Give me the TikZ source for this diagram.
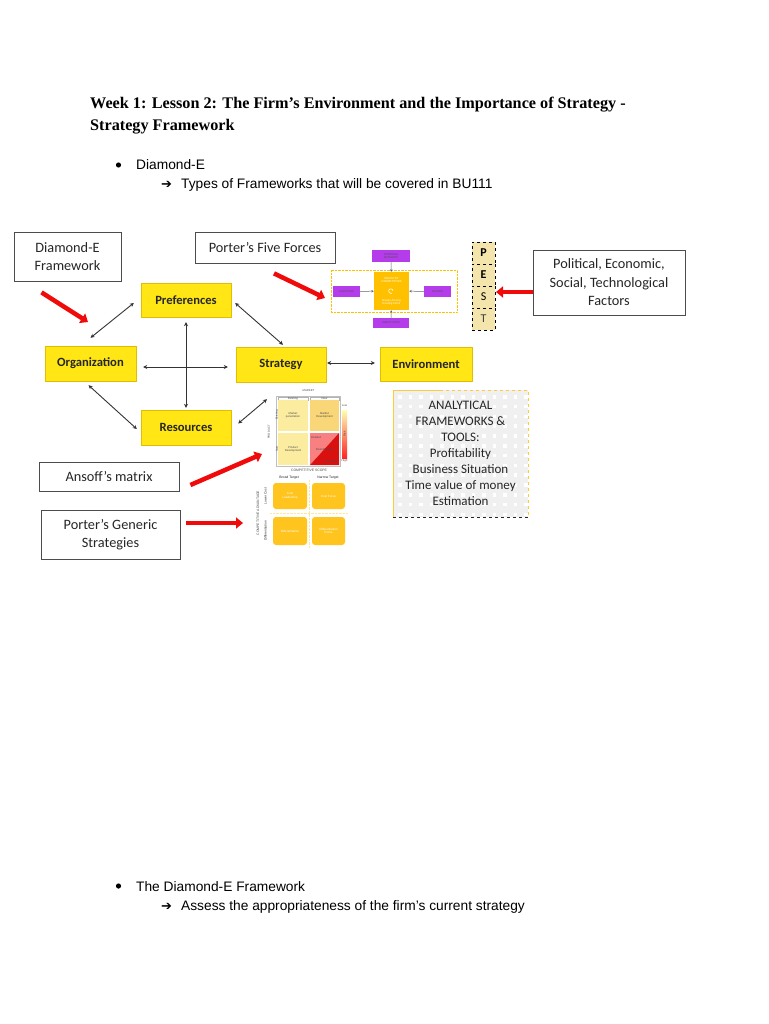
\documentclass[tikz,border=0pt]{standalone}
\usepackage{fontspec}
\setmainfont{Liberation Serif}
\newfontfamily\arialf{Liberation Sans}
\newfontfamily\calf{Carlito}
\newfontfamily\dvf{DejaVu Sans}
\usetikzlibrary{arrows.meta,shadows}
\definecolor{ybox}{RGB}{255,230,20}
\definecolor{yedge}{RGB}{225,190,0}
\definecolor{redarr}{RGB}{240,10,10}
\definecolor{purp}{RGB}{180,60,235}
\definecolor{orng}{RGB}{255,192,0}
\definecolor{pestfill}{RGB}{243,229,171}
\definecolor{ansA}{RGB}{252,236,160}
\definecolor{ansB}{RGB}{249,214,120}
\definecolor{ansP}{RGB}{248,128,128}
\definecolor{ansR}{RGB}{216,16,16}
\definecolor{gsfill}{RGB}{255,196,30}
\tikzset{
  lbl/.style={draw=black!70, line width=0.8pt, fill=white, inner sep=0pt, align=center, font=\calf\fontsize{14.3}{18.5}\selectfont, text=black!85},
  ybx/.style={draw=yedge, line width=0.4pt, fill=ybox, inner sep=0pt, font=\calf\bfseries\fontsize{12.6}{14}\selectfont, text=black!85, drop shadow={opacity=0.25, shadow xshift=1.2pt, shadow yshift=-1.2pt}},
  dlink/.style={black!80, line width=0.9pt, {Stealth[length=4pt,width=4pt]}-{Stealth[length=4pt,width=4pt]}},
  redarrow/.style={redarr, line width=4.5pt, -{Triangle[length=7pt,width=11pt]}},
  ff/.style={fill=purp, inner sep=0pt, align=center, font=\arialf\fontsize{2.6}{3}\selectfont, text=black!70},
  ffarrow/.style={black!60, line width=0.5pt, -{Stealth[length=2.5pt,width=2.5pt]}},
  pest/.style={draw=black, dashed, line width=0.5pt, fill=pestfill, minimum width=23pt, minimum height=22pt, inner sep=0pt, font=\calf\fontsize{12}{14}\selectfont},
  tiny/.style={font=\arialf\fontsize{2.8}{3.2}\selectfont, text=black!70, inner sep=0pt, align=center},
  gs/.style={fill=gsfill, rounded corners=3pt, inner sep=0pt, align=center, font=\arialf\fontsize{3}{3.6}\selectfont, text=white},
  bodytext/.style={font=\arialf\fontsize{13.75}{16}\selectfont, anchor=base west, inner sep=0pt},
  arrowglyph/.style={font=\dvf\fontsize{13}{15}\selectfont, anchor=base west, inner sep=0pt},
  titletext/.style={font=\bfseries\fontsize{16.2}{19}\selectfont, anchor=base west, inner sep=0pt}
}
\begin{document}
\begin{tikzpicture}[x=1pt,y=-1pt]
\useasboundingbox (0,0) rectangle (768,1024);
\fill[white] (0,0) rectangle (768,1024);

% ---------- text ----------
\node[titletext] (t1) at (90,109) {Week 1: Lesson 2: The Firm’s Environment and the Importance of Strategy -};
\node[titletext] (t2) at (90,131) {Strategy Framework};
\fill (118.5,165) circle (2.6pt);
\node[bodytext] (b1) at (136,170) {Diamond-E};
\node[arrowglyph] (a1) at (161,189) {➔};
\node[bodytext] (b1a) at (181,189) {Types of Frameworks that will be covered in BU111};
\fill (118.5,886) circle (2.6pt);
\node[bodytext] (b2) at (136,891) {The Diamond-E Framework};
\node[arrowglyph] (a2) at (161,910) {➔};
\node[bodytext] (b2a) at (181,910) {Assess the appropriateness of the firm’s current strategy};

% ---------- Diamond-E ----------
\node[lbl, minimum width=107pt, minimum height=49pt] (diae) at (67.5,256.5) {Diamond-E\\Framework};
\node[lbl, minimum width=140pt, minimum height=31pt] (p5lbl) at (265,247.5) {Porter’s Five Forces};

\node[ybx, minimum width=90pt, minimum height=34pt] (pref) at (186,300) {Preferences};
\node[ybx, minimum width=91pt, minimum height=35pt] (org) at (90.5,363.5) {Organization};
\node[ybx, minimum width=90pt, minimum height=35pt] (strat) at (281,364.5) {Strategy};
\node[ybx, minimum width=92pt, minimum height=34pt] (env) at (426,364) {Environment};
\node[ybx, minimum width=90pt, minimum height=35pt] (res) at (186,427.5) {Resources};

\draw[dlink] ([yshift=8pt]org.north) -- ([xshift=-7pt,yshift=-3pt]pref.west);
\draw[dlink] ([xshift=4pt,yshift=-3pt]pref.east) -- ([xshift=2pt,yshift=2pt]strat.north);
\draw[dlink] ([xshift=7pt,yshift=-3.5pt]org.east) -- ([xshift=-8pt,yshift=-2.5pt]strat.west);
\draw[dlink] ([yshift=-5pt]pref.south) -- ([yshift=2pt]res.north);
\draw[dlink] ([xshift=1pt,yshift=1.5pt]strat.east) -- ([xshift=-5pt,yshift=1pt]env.west);
\draw[dlink] ([xshift=-2pt,yshift=-4pt]org.south) -- ([xshift=-4pt,yshift=-1.5pt]res.west);
\draw[dlink] ([xshift=-14pt,yshift=-17pt]strat.south) -- ([xshift=7pt,yshift=4pt]res.east);

% ---------- Porter's Five Forces ----------
\draw[orng, line width=0.4pt, densely dotted] (331,270) rectangle (457,312);
\node[ff, minimum width=38pt, minimum height=12pt] (pe) at (391,256) {POTENTIAL\\ENTRANTS};
\node[fill=orng, inner sep=0pt, minimum width=35pt, minimum height=38pt] (ic) at (391.5,291) {};
\node[tiny, text=white] (ict) at (391.5,280) {INDUSTRY\\COMPETITORS};
\draw[white, line width=0.5pt, -{Stealth[length=1.5pt]}] (393,291) arc (0:300:2.2pt);
\node[tiny, text=white] (icb) at (391.5,302) {Rivalry Among\\Existing Firms};
\node[ff, minimum width=27pt, minimum height=11pt] (sup) at (346.5,291.5) {SUPPLIERS};
\node[ff, minimum width=27pt, minimum height=11pt] (buy) at (437.5,291.5) {BUYERS};
\node[ff, minimum width=36pt, minimum height=10pt] (sub) at (391,323) {SUBSTITUTES};
\draw[ffarrow] (pe) -- (ic);
\draw[ffarrow] (sub) -- (ic);
\draw[ffarrow] (sup) -- (ic);
\draw[ffarrow] (buy) -- (ic);

% ---------- PEST ----------
\node[pest, font=\calf\bfseries\fontsize{12}{14}\selectfont] (pP) at (483.5,253) {P};
\node[pest, font=\calf\bfseries\fontsize{12}{14}\selectfont] (pE) at (483.5,275) {E};
\node[pest] (pS) at (483.5,297) {S};
\node[pest, text=black!75] (pT) at (483.5,319) {T};
\node[lbl, minimum width=152pt, minimum height=65pt] (pol) at (609,282.5) {Political, Economic,\\Social, Technological\\Factors};

% ---------- Ansoff matrix ----------
\node[tiny] (mk) at (308.5,391) {MARKET};
\draw[black!25, line width=0.3pt] (276,396) rectangle (340,466);
\node[tiny, draw=black!30, line width=0.2pt, minimum width=30pt, minimum height=3pt] (ch1) at (293,398.5) {Existing};
\node[tiny, draw=black!30, line width=0.2pt, minimum width=29pt, minimum height=3pt] (ch2) at (324.5,398.5) {New};
\node[tiny, rotate=90] (prd) at (269,432) {PRODUCT};
\node[tiny, rotate=90] (rh1) at (277,415) {Existing};
\node[tiny, rotate=90] (rh2) at (277,449) {New};
\node[fill=ansA, tiny, minimum width=30pt, minimum height=31pt] (mp) at (293,415.5) {Market\\penetration};
\node[fill=ansB, tiny, minimum width=29pt, minimum height=31pt] (md) at (324.5,415.5) {Market\\Development};
\node[fill=ansA, tiny, minimum width=30pt, minimum height=32pt] (pd) at (293,449) {Product\\Development};
\fill[ansP] (310,433) -- (339,433) -- (310,465) -- cycle;
\fill[ansR] (339,433) -- (339,465) -- (310,465) -- cycle;
\node[tiny] (dv1) at (316,437) {Related};
\node[tiny] (dv2) at (324.5,449) {Diversification};
\node[tiny] (dv3) at (331,461) {Unrelated};
\shade[top color=yellow!30, bottom color=red!85] (342,410) rectangle (347,458);
\node[tiny] (lo) at (344.5,406) {Low};
\node[tiny, rotate=90] (rk) at (344.5,434) {Risk};
\node[tiny] (hi) at (344.5,461) {High};

% ---------- Porter's generic strategies ----------
\node[tiny, font=\arialf\fontsize{3.4}{4}\selectfont] (cs) at (309,470) {COMPETITIVE SCOPE};
\node[tiny, font=\arialf\fontsize{3.4}{4}\selectfont, text=black!85] (bt) at (289,477.5) {Broad Target};
\node[tiny, font=\arialf\fontsize{3.4}{4}\selectfont, text=black!85] (nt) at (328,477.5) {Narrow Target};
\draw[orng!40, line width=0.4pt, densely dotted] (270,513) -- (348,513);
\draw[orng!40, line width=0.4pt, densely dotted] (309.5,480) -- (309.5,548);
\node[gs, minimum width=34pt, minimum height=26pt] (cl) at (290,496) {Cost\\Leadership};
\node[gs, minimum width=33pt, minimum height=26pt] (cf) at (328.5,496) {Cost Focus};
\node[gs, minimum width=34pt, minimum height=28pt] (df) at (290,531) {Differentiation};
\node[gs, minimum width=33pt, minimum height=28pt] (dff) at (328.5,531) {Differentiation\\Focus};
\node[tiny, rotate=90, font=\arialf\fontsize{3.4}{4}\selectfont] (ca) at (258,513) {COMPETITIVE ADVANTAGE};
\node[tiny, rotate=90, font=\arialf\fontsize{3.2}{4}\selectfont, text=black!85] (lc) at (265.5,496) {Lower Cost};
\node[tiny, rotate=90, font=\arialf\fontsize{3.2}{4}\selectfont, text=black!85] (dfl) at (265.5,531) {Differentiation};

\node[lbl, minimum width=140pt, minimum height=29pt] (ans) at (109,476.5) {Ansoff’s matrix};
\node[lbl, minimum width=139pt, minimum height=49pt] (pgs) at (110.5,534.5) {Porter’s Generic\\Strategies};

% ---------- Analytical frameworks box ----------
\fill[black!6] (393,390) rectangle (528,517);
\foreach \i in {0,...,12} {\foreach \j in {0,...,12} {\fill[white] (398+\i*10.5, 395+\j*9.8) rectangle ++(3.5,3.5);}}
\draw[orng!80, line width=0.8pt] (393,517) -- (393,390) -- (440,390);
\draw[orng!80, line width=0.8pt, dashed] (440,390) -- (528,390) -- (528,517);
\draw[black!85, line width=1pt, dashed] (393,517) -- (528,517);
\node[inner sep=0pt, align=center, font=\calf\fontsize{13}{16}\selectfont, text=black!85] (anl) at (460.5,453.5) {ANALYTICAL\\FRAMEWORKS \&\\TOOLS:\\Profitability\\Business Situation\\Time value of money\\Estimation};

% ---------- red arrows ----------
\coordinate (e1) at (88,322);
\coordinate (e2) at (325,298);
\coordinate (e3) at (496,292);
\coordinate (e4) at (262,454);
\coordinate (e5) at (243,523);
\draw[redarrow] ([xshift=-26pt,yshift=-11pt]diae.south) -- (e1);
\draw[redarrow] ([xshift=9pt,yshift=-10pt]p5lbl.south) -- (e2);
\draw[redarrow] ([yshift=-9.5pt]pol.west) -- (e3);
\draw[redarrow] ([xshift=11pt,yshift=-8.5pt]ans.east) -- (e4);
\draw[redarrow] ([xshift=6pt,yshift=11.5pt]pgs.east) -- (e5);
\end{tikzpicture}
\end{document}
